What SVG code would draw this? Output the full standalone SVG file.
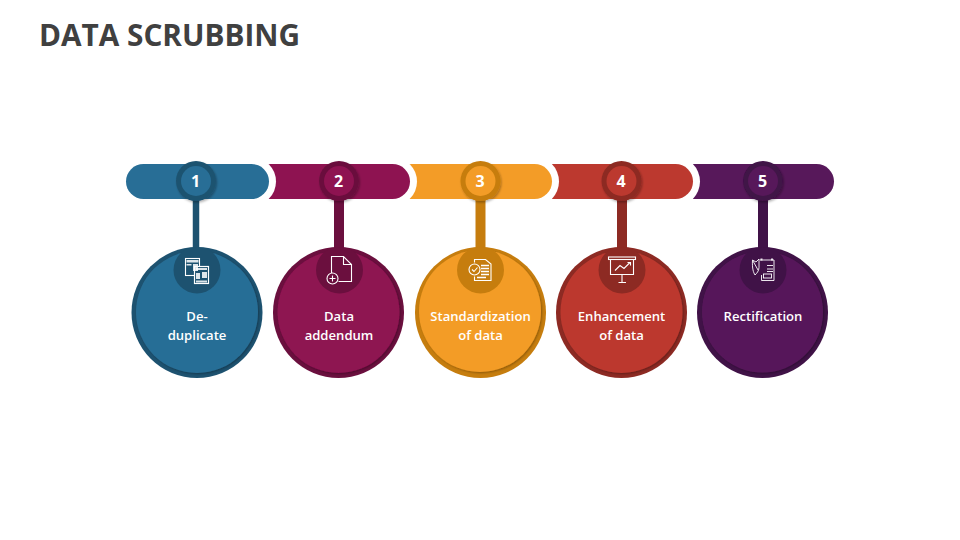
<svg xmlns="http://www.w3.org/2000/svg" width="960" height="540" viewBox="0 0 960 540">
<style>
text{font-family:"Open Sans","Liberation Sans",sans-serif;fill:#fff;text-anchor:middle}
.title{font-size:30.5px;font-weight:700;fill:#404040;text-anchor:start}
.num{font-size:16px;font-weight:700}
.lab{font-size:13.1px;font-weight:600}
.ic{fill:none;stroke:#fff;stroke-width:1.1}
.f{fill:#fff;stroke:none;opacity:.85}
.c1{fill:#286e96}.d1{fill:#1d5270}.s1{stroke:#1d5270}
.c2{fill:#8e1351}.d2{fill:#6b0f3e}.s2{stroke:#6b0f3e}
.c3{fill:#f39c27}.d3{fill:#c67d0e}.s3{stroke:#c67d0e}
.c4{fill:#bc392f}.d4{fill:#8d2a23}.s4{stroke:#8d2a23}
.c5{fill:#57185a}.d5{fill:#401247}.s5{stroke:#401247}
.stem{stroke-width:10;fill:none}
</style>
<defs>
<filter id="sh" x="-30%" y="-30%" width="160%" height="160%"><feDropShadow dx="1" dy="1.5" stdDeviation="1.2" flood-color="#000" flood-opacity=".3"/></filter>
<filter id="sb" x="-10%" y="-10%" width="120%" height="120%"><feDropShadow dx="1" dy="1" stdDeviation=".8" flood-color="#000" flood-opacity=".3"/></filter>
</defs>
<rect width="960" height="540" fill="#fff"/>
<text class="title" x="39" y="46" textLength="261" lengthAdjust="spacingAndGlyphs">DATA SCRUBBING</text>
<g id="bars">
<rect class="c5" x="670" y="164" width="164" height="35" rx="17.5"/>
<circle cx="675" cy="181.5" r="25" fill="#fff"/>
<rect class="c4" x="530" y="164" width="163" height="35" rx="17.5"/>
<circle cx="534" cy="181.5" r="25" fill="#fff"/>
<rect class="c3" x="390" y="164" width="162" height="35" rx="17.5"/>
<circle cx="392.500" cy="181.5" r="24.500" fill="#fff"/>
<rect class="c2" x="250" y="164" width="160" height="35" rx="17.5"/>
<circle cx="251.500" cy="181.5" r="24.500" fill="#fff"/>
<rect class="c1" x="126" y="164" width="143" height="35" rx="17.5"/>
</g>
<g id="connectors">
<line class="stem s1" style="stroke-width:6.500" x1="196" y1="190" x2="196" y2="250"/>
<line class="stem s2" x1="339" y1="190" x2="339" y2="250"/>
<line class="stem s3" x1="480.500" y1="190" x2="480.500" y2="250"/>
<line class="stem s4" x1="622" y1="190" x2="622" y2="250"/>
<line class="stem s5" x1="763" y1="190" x2="763" y2="250"/>
</g>
<g id="node1">
<circle class="d1" cx="196" cy="181" r="20" filter="url(#sh)"/><circle class="c1" cx="196" cy="181" r="15"/>
<text class="num" x="195.500" y="186.500">1</text>
<circle class="d1" cx="197" cy="312.500" r="65.500"/><circle class="c1" cx="197" cy="312" r="61" filter="url(#sb)"/>
<clipPath id="k1"><circle cx="197" cy="312.500" r="65"/></clipPath>
<circle class="d1" cx="197" cy="270" r="23.500" clip-path="url(#k1)"/>
<g class="ic"><rect x="185.500" y="258.500" width="14" height="17"/><rect x="194.500" y="266.500" width="14" height="17" class="d1"/><rect x="194.500" y="266.500" width="14" height="17"/>
<rect class="f" x="186.500" y="260" width="12" height="2.500"/><rect class="f" x="186.500" y="264" width="5" height="1.500"/><rect class="f" x="193" y="264" width="5" height="7"/><rect class="f" x="196" y="268" width="11" height="2"/><rect class="f" x="196" y="273" width="4" height="6"/><rect class="f" x="202" y="272" width="5" height="6"/><rect class="f" x="196" y="280.500" width="11" height="2"/></g>
<text class="lab" x="197" y="320.500">De-</text><text class="lab" x="197" y="339.500">duplicate</text>
</g>
<g id="node2">
<circle class="d2" cx="339" cy="181" r="20" filter="url(#sh)"/><circle class="c2" cx="339" cy="181" r="15"/>
<text class="num" x="338.500" y="186.500">2</text>
<circle class="d2" cx="338.500" cy="312.500" r="65.500"/><circle class="c2" cx="338.500" cy="312" r="61" filter="url(#sb)"/>
<clipPath id="k2"><circle cx="338.500" cy="312.500" r="65"/></clipPath>
<circle class="d2" cx="339.500" cy="270" r="23.500" clip-path="url(#k2)"/>
<g class="ic"><path d="M331.500 273V256.500H343.500L351.500 264.500V281.500H338.500M343.500 256.500V264.500H351.500"/><circle cx="332.500" cy="278.500" r="5.500"/><path d="M329.500 278.500H335.500M332.500 275.500V281.500"/></g>
<text class="lab" x="339" y="320.500">Data</text><text class="lab" x="339" y="339.500">addendum</text>
</g>
<g id="node3">
<circle class="d3" cx="480.500" cy="181" r="20" filter="url(#sh)"/><circle class="c3" cx="480.500" cy="181" r="15"/>
<text class="num" x="480" y="186.500">3</text>
<circle class="d3" cx="480.500" cy="312.500" r="65.500"/><circle class="c3" cx="480" cy="311" r="61" filter="url(#sb)"/>
<clipPath id="k3"><circle cx="480.500" cy="312.500" r="65"/></clipPath>
<circle class="d3" cx="480.500" cy="270" r="23.500" clip-path="url(#k3)"/>
<g class="ic"><path d="M474.500 262.500V259.500H485.500L491 264V280.500H474.500V276.500"/><circle class="d3" cx="474.500" cy="269.500" r="5.500" style="stroke:#fff"/><path d="M472 269.500L474 271.500L477.500 267.500"/><path d="M481 265.500H489M481 268.500H489M481 271.500H489M481 274.500H489M477 277.500H486" stroke-width="1.300"/></g>
<text class="lab" x="480.500" y="320.500">Standardization</text><text class="lab" x="480.500" y="339.500">of data</text>
</g>
<g id="node4">
<circle class="d4" cx="621.500" cy="181" r="20" filter="url(#sh)"/><circle class="c4" cx="621.500" cy="181" r="15"/>
<text class="num" x="621" y="186.500">4</text>
<circle class="d4" cx="621.500" cy="312.500" r="65.500"/><circle class="c4" cx="621.500" cy="312" r="61" filter="url(#sb)"/>
<clipPath id="k4"><circle cx="621.500" cy="312.500" r="65"/></clipPath>
<circle class="d4" cx="622" cy="270" r="23.500" clip-path="url(#k4)"/>
<g class="ic"><rect x="608.500" y="257" width="27" height="2.500"/><path d="M610.500 259.500V274.500H633.500V259.500M622 274.500V282M618.500 282.500H626"/><path d="M615 270.500L620 265.500L624 268.500L630 262.500M627.500 262.500H630.500V265.500"/></g>
<text class="lab" x="621.500" y="320.500">Enhancement</text><text class="lab" x="621.500" y="339.500">of data</text>
</g>
<g id="node5">
<circle class="d5" cx="763" cy="181" r="20" filter="url(#sh)"/><circle class="c5" cx="763" cy="181" r="15"/>
<text class="num" x="762.500" y="186.500">5</text>
<circle class="d5" cx="762.500" cy="312.500" r="65.500"/><circle class="c5" cx="762.500" cy="312" r="60.500" filter="url(#sb)"/>
<clipPath id="k5"><circle cx="762.500" cy="312.500" r="65"/></clipPath>
<circle class="d5" cx="763" cy="270" r="23.500" clip-path="url(#k5)"/>
<g class="ic" style="stroke-width:.9"><path d="M760 260H774V280.500H761.500V275"/><rect x="763.500" y="274" width="8" height="4"/><path d="M767 265.500H773M767 269H773M767 271.500H773"/><path d="M752.500 260L756 262L759 259V267.500C759 271 756.500 273.500 755 275C753.500 272.500 752 269 752.500 260Z"/><path d="M753 261L758 270"/><rect class="f" x="760.500" y="258.500" width="2" height="2"/><rect class="f" x="771" y="258.500" width="2" height="2"/></g>
<text class="lab" x="763" y="320.500">Rectification</text>
</g>
</svg>
